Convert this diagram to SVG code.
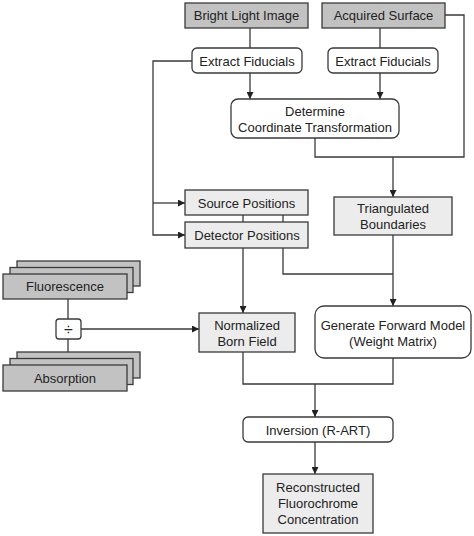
<svg xmlns="http://www.w3.org/2000/svg" width="474" height="536" viewBox="0 0 474 536">
<defs>
<marker id="ah" viewBox="0 0 10 10" refX="10" refY="5" markerWidth="7" markerHeight="7" markerUnits="userSpaceOnUse" orient="auto">
<path d="M0,0 L10,5 L0,10 z" fill="#222"/>
</marker>
<style>
.dark{fill:#c2c2c2;stroke:#3a3a3a;stroke-width:1.3}
.light{fill:#ececec;stroke:#3a3a3a;stroke-width:1.3}
.white{fill:#fff;stroke:#3a3a3a;stroke-width:1.3}
text{font-family:"Liberation Sans",Arial,sans-serif;font-size:13px;fill:#222;text-anchor:middle}
.c path,.c line,.c polyline{fill:none;stroke:#3a3a3a;stroke-width:1.3}
</style>
</defs>
<rect width="474" height="536" fill="#fff"/>
<g class="c" id="connectors">
<line x1="250" y1="28" x2="250" y2="48"/>
<line x1="380" y1="28" x2="380" y2="48"/>
<line x1="250" y1="73" x2="250" y2="99" marker-end="url(#ah)"/>
<line x1="380" y1="73" x2="380" y2="99" marker-end="url(#ah)"/>
<polyline points="445,15 464,15 464,157 315,157 315,138"/>
<line x1="393" y1="157" x2="393" y2="197" marker-end="url(#ah)"/>
<polyline points="192,61 153,61 153,235 185,235" marker-end="url(#ah)"/>
<line x1="153" y1="203" x2="185" y2="203" marker-end="url(#ah)"/>
<line x1="243" y1="215" x2="243" y2="222"/>
<line x1="283" y1="215" x2="283" y2="222"/>
<line x1="243" y1="248" x2="243" y2="313" marker-end="url(#ah)"/>
<polyline points="283,248 283,274 393,274"/>
<line x1="393" y1="235" x2="393" y2="306" marker-end="url(#ah)"/>
<line x1="68" y1="299" x2="68" y2="319"/>
<line x1="68" y1="339" x2="68" y2="365"/>
<line x1="81" y1="329" x2="199" y2="329" marker-end="url(#ah)"/>
<polyline points="243,352 243,384 393,384 393,358"/>
<line x1="315" y1="384" x2="315" y2="417" marker-end="url(#ah)"/>
<line x1="315" y1="442" x2="315" y2="474" marker-end="url(#ah)"/>
</g>
<g id="bright-light-image"><rect class="dark" x="185" y="3" width="123" height="25"/><text x="246.5" y="20">Bright Light Image</text></g>
<g id="acquired-surface"><rect class="dark" x="322" y="3" width="123" height="25"/><text x="383.5" y="20">Acquired Surface</text></g>
<g id="extract-fiducials-1"><rect class="white" x="192" y="48" width="110" height="25" rx="5"/><text x="247" y="65.5">Extract Fiducials</text></g>
<g id="extract-fiducials-2"><rect class="white" x="328" y="48" width="110" height="25" rx="5"/><text x="383" y="65.5">Extract Fiducials</text></g>
<g id="determine"><rect class="white" x="231" y="99" width="168" height="39" rx="7"/><text x="315" y="116">Determine</text><text x="315" y="132">Coordinate Transformation</text></g>
<g id="source-positions"><rect class="light" x="185" y="190" width="123" height="25"/><text x="246.5" y="207.5">Source Positions</text></g>
<g id="detector-positions"><rect class="light" x="185" y="222" width="123" height="26"/><text x="247" y="240">Detector Positions</text></g>
<g id="triangulated"><rect class="light" x="334" y="197" width="118" height="38"/><text x="393" y="213">Triangulated</text><text x="393" y="229">Boundaries</text></g>
<g id="fluorescence"><rect class="dark" x="17" y="261" width="123" height="25"/><rect class="dark" x="10" y="267.5" width="123" height="25"/><rect class="dark" x="3" y="274" width="124" height="25"/><text x="65" y="291">Fluorescence</text></g>
<g id="divide"><rect class="white" x="56" y="319" width="25" height="20" rx="3"/><text x="68.5" y="335" style="font-size:16px">÷</text></g>
<g id="absorption"><rect class="dark" x="17" y="352" width="123" height="26"/><rect class="dark" x="10" y="358.5" width="123" height="26"/><rect class="dark" x="3" y="365" width="124" height="26"/><text x="65" y="383">Absorption</text></g>
<g id="normalized-born-field"><rect class="light" x="199" y="313" width="96" height="39"/><text x="247" y="330">Normalized</text><text x="247" y="346">Born Field</text></g>
<g id="forward-model"><rect class="white" x="315" y="306" width="156" height="52" rx="9"/><text x="393" y="330">Generate Forward Model</text><text x="393" y="346">(Weight Matrix)</text></g>
<g id="inversion"><rect class="white" x="243" y="417" width="150" height="25" rx="5"/><text x="318" y="434.5">Inversion (R-ART)</text></g>
<g id="reconstructed"><rect class="light" x="263" y="474" width="110" height="59"/><text x="318" y="492">Reconstructed</text><text x="318" y="508">Fluorochrome</text><text x="318" y="524">Concentration</text></g>
</svg>
